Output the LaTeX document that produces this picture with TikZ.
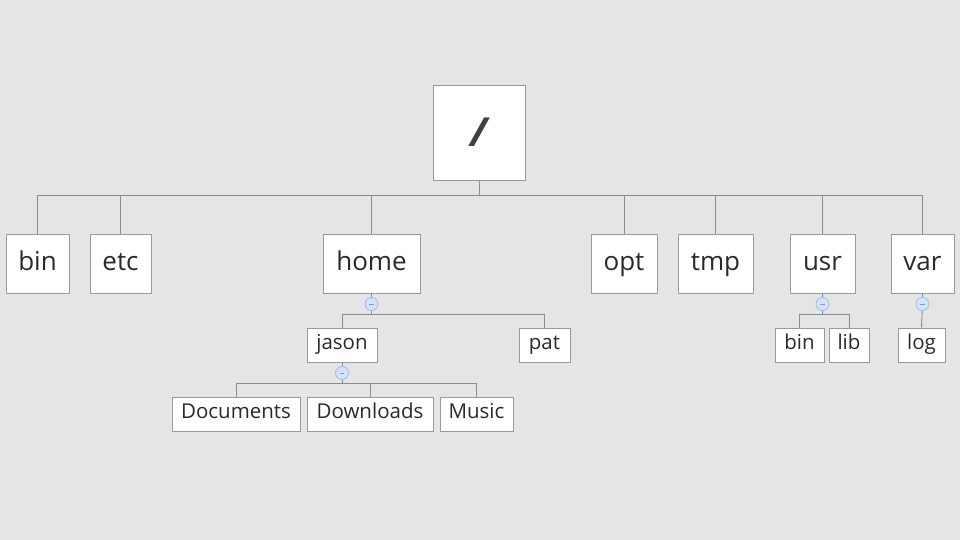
\documentclass[tikz,border=0pt]{standalone}
\usepackage{fontspec}
\setmainfont{Open Sans}
\definecolor{tgfill}{HTML}{D2E3FA}
\definecolor{tgline}{HTML}{9DBCEC}
\definecolor{txt}{HTML}{2A2A2A}
\begin{document}
\begin{tikzpicture}[x=1pt,y=-1pt,
  box/.style={draw=black!40,fill=white,line width=0.9pt,inner sep=0pt,anchor=center,text=txt},
  big/.style={box,minimum height=59pt,text height=19pt,text depth=6pt,font=\fontsize{26}{26}\selectfont},
  small/.style={box,minimum height=34pt,text height=15pt,text depth=7pt,font=\fontsize{20.5}{20.5}\selectfont},
  link/.style={draw=black!45,line width=0.9pt},
  toggle/.style={circle,draw=tgline,fill=tgfill,line width=0.8pt,minimum size=13pt,inner sep=0pt,
    path picture={\draw[tgline!80!blue,line width=0.7pt] ([xshift=-2.2pt]path picture bounding box.center) -- ([xshift=2.2pt]path picture bounding box.center);}}
]
\fill[gray!20] (0,0) rectangle (960,540);
\useasboundingbox (0,0) rectangle (960,540);

% nodes
\node[box,minimum width=92pt,minimum height=95pt,text=black!75,font=\fontsize{40}{40}\selectfont\bfseries\itshape] (root) at (479,132.5) {/};
\node[big,minimum width=63pt] (bin) at (37.5,263.5) {bin};
\node[big,minimum width=61pt] (etc) at (120.5,263.5) {etc};
\node[big,minimum width=97pt] (home) at (371.5,263.5) {home};
\node[big,minimum width=66pt] (opt) at (624,263.5) {opt};
\node[big,minimum width=75pt] (tmp) at (715.5,263.5) {tmp};
\node[big,minimum width=65pt] (usr) at (822.5,263.5) {usr};
\node[big,minimum width=63pt] (var) at (922.5,263.5) {var};

\node[small,minimum width=70pt] (jason) at (342,345) {jason};
\node[small,minimum width=51pt] (pat) at (544.5,345) {pat};
\node[small,minimum width=49pt] (ubin) at (799.5,345) {bin};
\node[small,minimum width=40pt] (lib) at (849,345) {lib};
\node[small,minimum width=47pt] (log) at (921.5,345) {log};

\node[small,minimum width=128pt] (docs) at (236,414) {Documents};
\node[small,minimum width=126pt] (down) at (370,414) {Downloads};
\node[small,minimum width=73pt] (music) at (476.5,414) {Music};

% toggles (coordinates)
\coordinate (th) at (371.5,304);
\coordinate (tj) at (342,373);
\coordinate (tu) at (822.5,304);
\coordinate (tv) at (922.5,304);

% connectors
\foreach \c in {bin,etc,home,opt,tmp,usr,var}
  \draw[link] (root.south) -- ++(0,14.5) -| (\c.north);
\draw[link] (home.south) -- (th);
\foreach \c in {jason,pat}
  \draw[link] (th) -- ++(0,10) -| (\c.north);
\draw[link] (jason.south) -- (tj);
\foreach \c in {docs,down,music}
  \draw[link] (tj) -- ++(0,10) -| (\c.north);
\draw[link] (usr.south) -- (tu);
\foreach \c in {ubin,lib}
  \draw[link] (tu) -- ++(0,10) -| (\c.north);
\draw[link] (var.south) -- (tv) -- (log.north);

\node[toggle] (kh) at (th) {};
\node[toggle] (kj) at (tj) {};
\node[toggle] (ku) at (tu) {};
\node[toggle] (kv) at (tv) {};
\end{tikzpicture}
\end{document}
